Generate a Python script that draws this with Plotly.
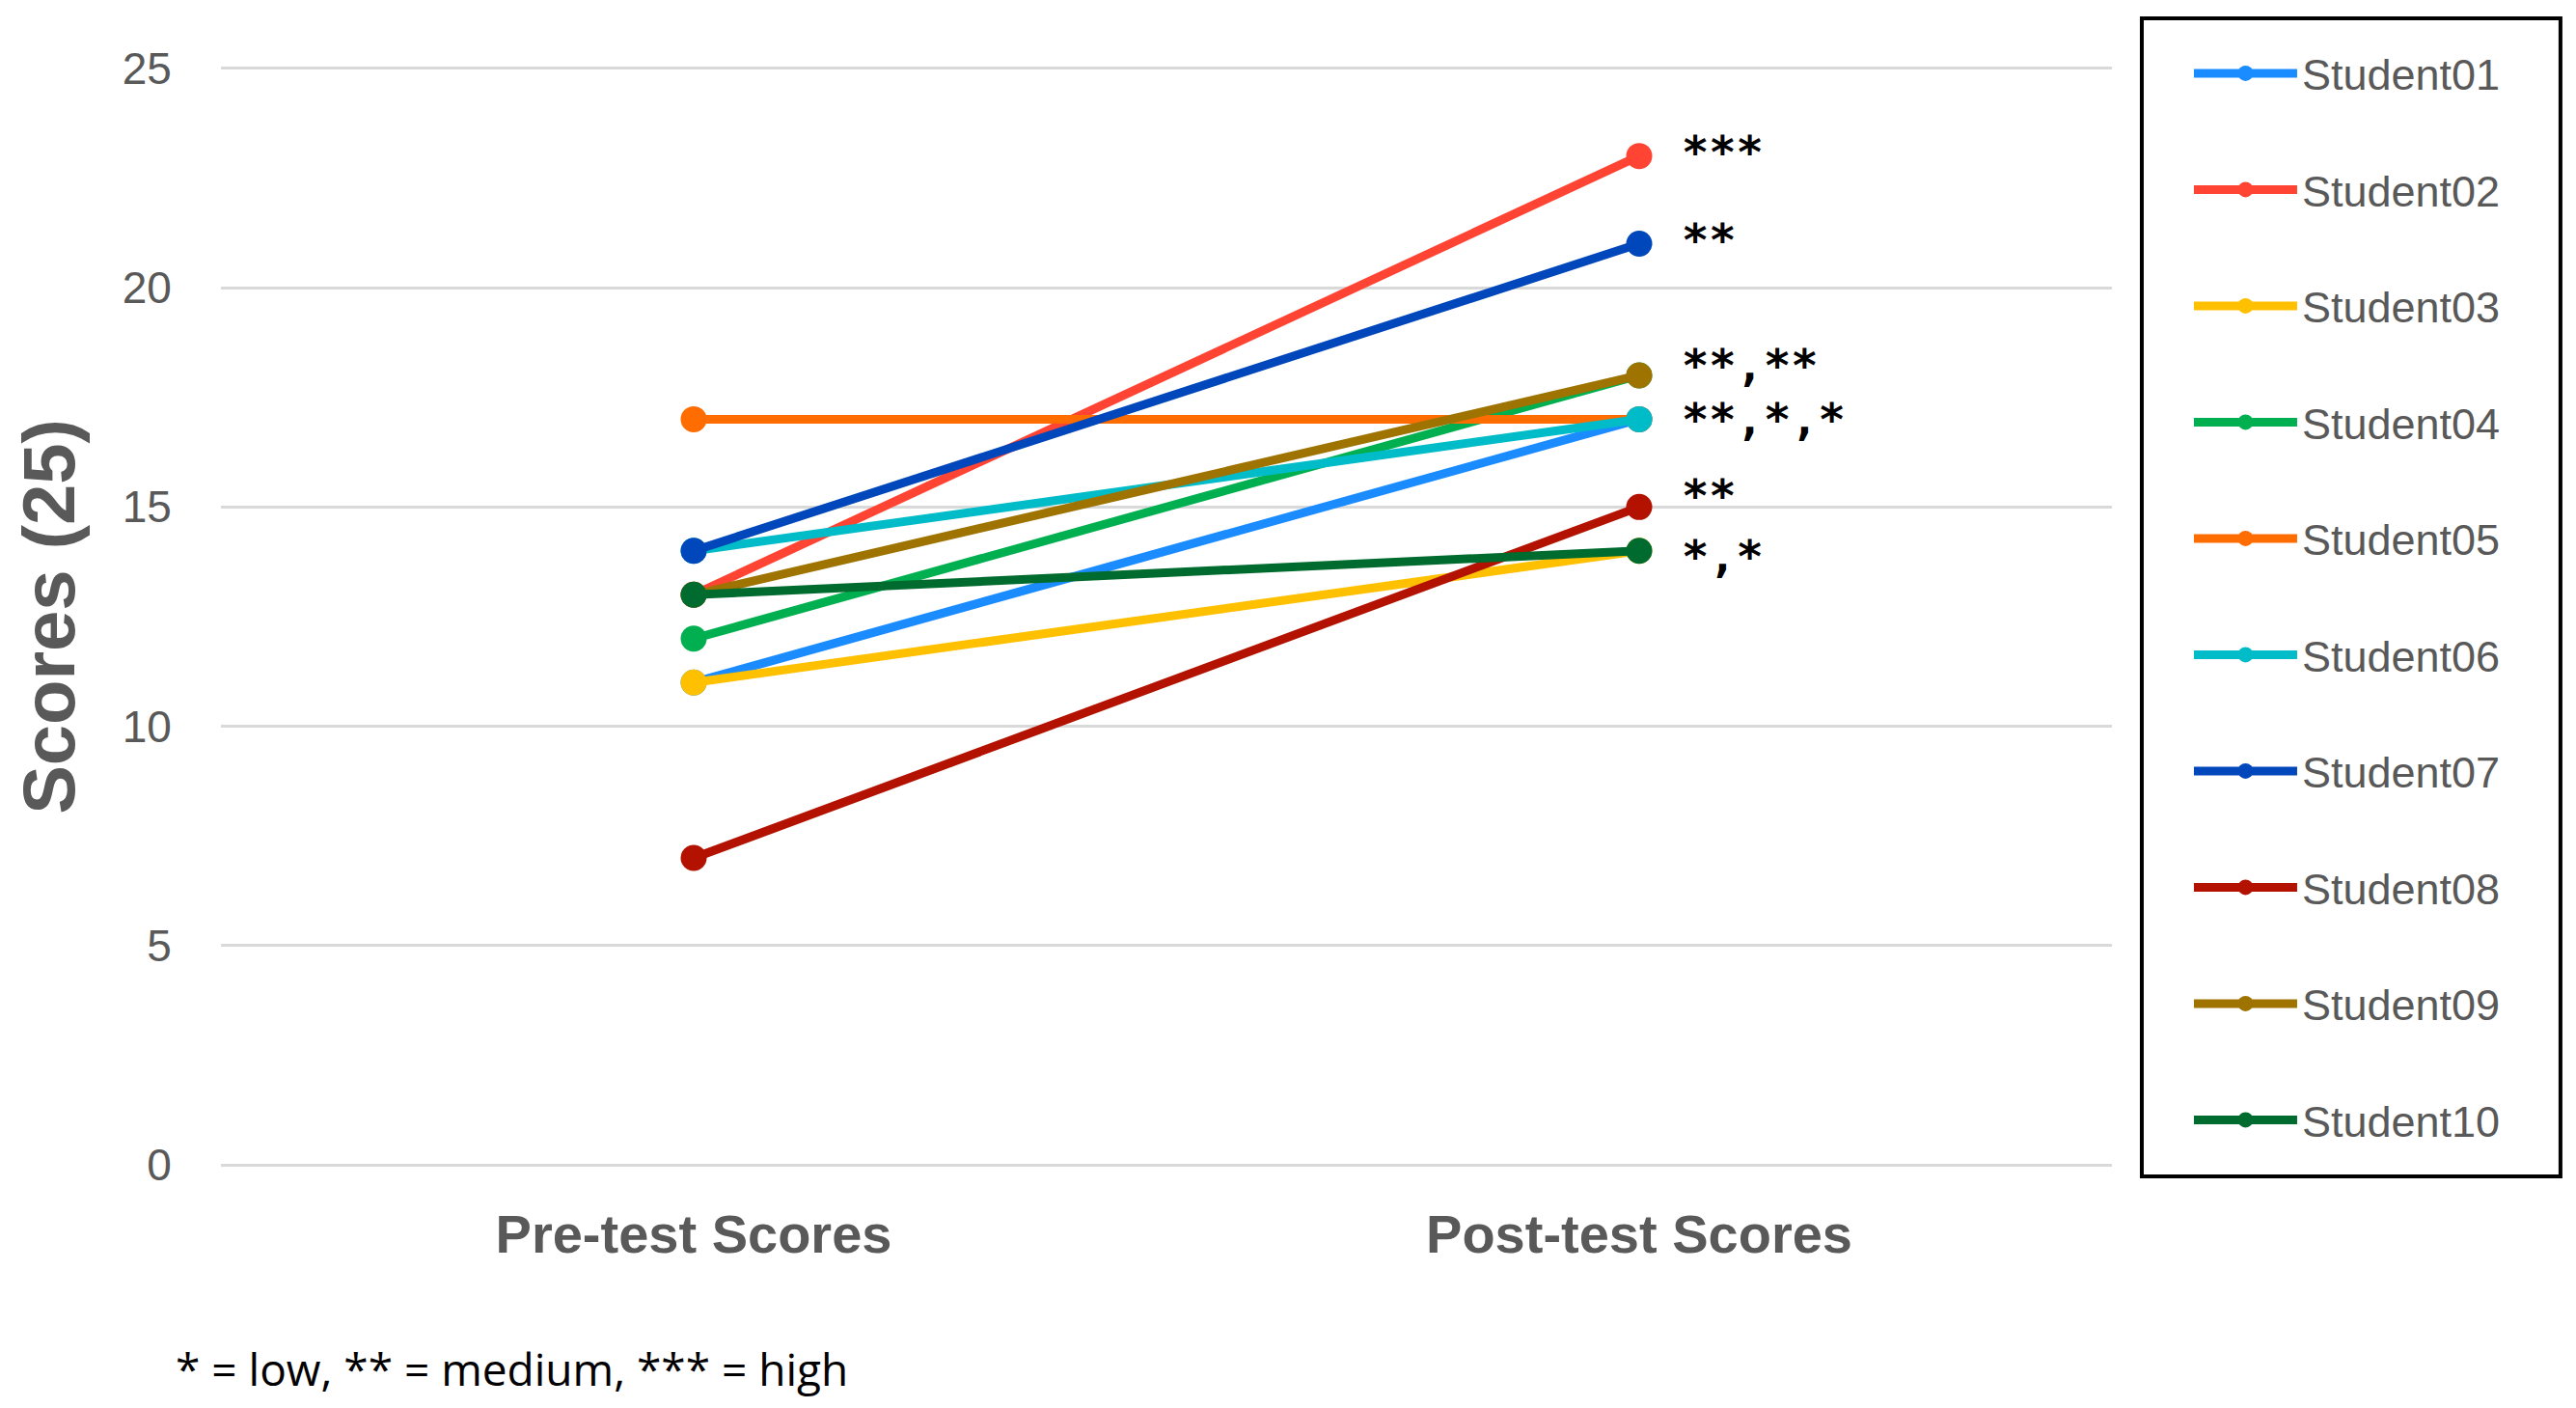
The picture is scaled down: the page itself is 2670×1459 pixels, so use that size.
import plotly.graph_objects as go

# data
tests = ["Pre-test Scores", "Post-test Scores"]
students = ["Student01", "Student02", "Student03", "Student04", "Student05",
            "Student06", "Student07", "Student08", "Student09", "Student10"]
pre_scores = [11, 13, 11, 12, 17, 14, 14, 7, 13, 13]
post_scores = [17, 23, 14, 18, 17, 17, 21, 15, 18, 14]
colors = ["#1A8CFF", "#FF4433", "#FFC000", "#00B050", "#FF6D00",
          "#00BCC8", "#0047BB", "#B31200", "#9E7300", "#006B2E"]

# rating labels next to the post-test points
rating_labels = ["***", "**", "**,**", "**,*,*", "**", "*,*"]
rating_values = [23, 21, 18, 17, 15, 14]
rating_shift = [4, 4, 10, 0, 12, -6]

GRAY = "#595959"

fig = go.Figure()

for name, pre, post, col in zip(students, pre_scores, post_scores, colors):
    fig.add_trace(go.Scatter(
        x=tests,
        y=[pre, post],
        mode="lines+markers",
        name=name,
        legendgroup=name,
        line=dict(color=col, width=9),
        marker=dict(color=col, size=27),
    ))

for lab, val, sh in zip(rating_labels, rating_values, rating_shift):
    fig.add_annotation(
        x=tests[1], y=val, text=lab, showarrow=False,
        xanchor="left", yanchor="middle", xshift=42, yshift=sh,
        font=dict(family="DejaVu Sans Mono", size=47, color="black", weight="bold"),
    )

fig.add_annotation(
    xref="paper", yref="paper", x=-0.025, y=-0.182,
    text="* = low, ** = medium, *** = high", showarrow=False,
    xanchor="left", yanchor="middle",
    font=dict(family="Open Sans", size=46, color="black"),
)

# legend frame
fig.add_shape(type="rect", xref="paper", yref="paper",
              x0=1.0158, x1=1.2372, y0=-0.0079, y1=1.0429,
              line=dict(color="black", width=4), fillcolor="rgba(0,0,0,0)")

fig.update_xaxes(
    range=[-0.5, 1.5],
    showgrid=False, zeroline=False, showline=False,
    ticks="outside", ticklen=20, tickcolor="rgba(0,0,0,0)",
    tickfont=dict(family="Liberation Sans", size=56, color=GRAY, weight="bold"),
)
fig.update_yaxes(
    range=[-0.06, 25.06], tickvals=[0, 5, 10, 15, 20, 25],
    showgrid=True, gridcolor="#D9D9D9", gridwidth=3,
    zeroline=False, showline=False,
    ticks="outside", ticklen=41, tickcolor="rgba(0,0,0,0)",
    tickfont=dict(family="Liberation Sans", size=46, color=GRAY),
    title=dict(text="Scores (25)", standoff=45,
               font=dict(family="Liberation Sans", size=76, color=GRAY, weight="bold")),
)

fig.update_layout(
    width=2670, height=1459,
    margin=dict(l=221, r=489, t=60, b=257),
    plot_bgcolor="white", paper_bgcolor="white",
    legend=dict(
        x=1.0408, y=1.0244, xanchor="left", yanchor="top",
        borderwidth=0, bgcolor="rgba(0,0,0,0)",
        font=dict(family="Liberation Sans", size=45, color=GRAY),
        tracegroupgap=59, itemwidth=107, maxheight=1400,
    ),
)

fig.write_html("out.html")
